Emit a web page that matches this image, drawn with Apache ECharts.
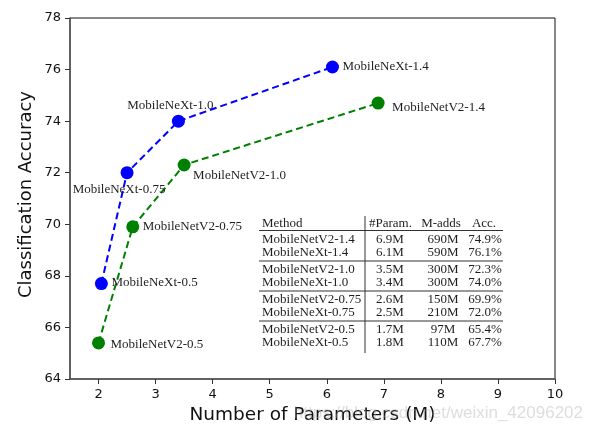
<!DOCTYPE html>
<html>
<head>
<meta charset="utf-8">
<script src="https://cdn.jsdelivr.net/npm/echarts@6/dist/echarts.min.js"></script>
<style>
html,body{margin:0;padding:0;background:#fff;}
#main{width:593px;height:434px;}
</style>
</head>
<body>
<div id="main"></div>
<script>
// ---- data ----
const nextNames = ['MobileNeXt-0.5', 'MobileNeXt-0.75', 'MobileNeXt-1.0', 'MobileNeXt-1.4'];
const nextParams = [2.05, 2.5, 3.4, 6.1];
const nextAcc = [67.7, 72.0, 74.0, 76.1];

const v2Names = ['MobileNetV2-0.5', 'MobileNetV2-0.75', 'MobileNetV2-1.0', 'MobileNetV2-1.4'];
const v2Params = [2.0, 2.6, 3.5, 6.9];
const v2Acc = [65.4, 69.9, 72.3, 74.7];

const xTicks = [2, 3, 4, 5, 6, 7, 8, 9, 10];
const yTicks = [64, 66, 68, 70, 72, 74, 76, 78];

const tableHeader = ['Method', '#Param.', 'M-adds', 'Acc.'];
const tableMethod = ['MobileNetV2-1.4', 'MobileNeXt-1.4', 'MobileNetV2-1.0', 'MobileNeXt-1.0',
  'MobileNetV2-0.75', 'MobileNeXt-0.75', 'MobileNetV2-0.5', 'MobileNeXt-0.5'];
const tableParam = ['6.9M', '6.1M', '3.5M', '3.4M', '2.6M', '2.5M', '1.7M', '1.8M'];
const tableMadds = ['690M', '590M', '300M', '300M', '150M', '210M', '97M', '110M'];
const tableAcc = ['74.9%', '76.1%', '72.3%', '74.0%', '69.9%', '72.0%', '65.4%', '67.7%'];

const watermark = 'https://blog.csdn.net/weixin_42096202';

// ---- styles ----
const serif = '"Liberation Serif", "Times New Roman", serif';
const sans = '"DejaVu Sans", sans-serif';
const textColor = '#1e1e1e';

// label placement per point: [align, dx, dy]
const nextLabelPos = [['left', 10, -1], ['center', -8, 17], ['center', -8, -16], ['left', 10, 0]];
const v2LabelPos = [['left', 12, 2], ['left', 10, 0], ['left', 9, 11], ['left', 14, 4]];

function buildData(xs, ys, names, pos) {
  return xs.map((x, i) => ({
    value: [x, ys[i]],
    name: names[i],
    label: {
      show: true,
      position: 'inside',
      align: pos[i][0],
      verticalAlign: 'middle',
      offset: [pos[i][1], pos[i][2]],
      formatter: names[i],
      fontFamily: serif,
      fontSize: 13,
      color: textColor
    }
  }));
}

// table graphics
const tbl = [];
const colMethodX = 262;
const colParamX = 390;
const colMaddsX = 443;
const colAccX = 485;
const headerY = 223.5;
const rowYs = [];
{
  let y = 239.5;
  for (let i = 0; i < tableMethod.length; i++) {
    rowYs.push(y);
    y += (i % 2 === 1) ? 17 : 13;
  }
}
function txt(x, y, s, align) {
  tbl.push({
    type: 'text', x: x, y: y, silent: true,
    style: { text: s, fontFamily: serif, fontSize: 13, fill: textColor, align: align, verticalAlign: 'middle' }
  });
}
txt(colMethodX, headerY, tableHeader[0], 'left');
txt(369, headerY, tableHeader[1], 'left');
txt(441, headerY, tableHeader[2], 'center');
txt(484, headerY, tableHeader[3], 'center');
for (let i = 0; i < tableMethod.length; i++) {
  txt(colMethodX, rowYs[i], tableMethod[i], 'left');
  txt(colParamX, rowYs[i], tableParam[i], 'center');
  txt(colMaddsX, rowYs[i], tableMadds[i], 'center');
  txt(colAccX, rowYs[i], tableAcc[i], 'center');
}
const hLines = [230.5, 261, 291, 321];
hLines.forEach(y => tbl.push({
  type: 'line', silent: true,
  shape: { x1: 259, y1: y, x2: 503, y2: y },
  style: { stroke: '#333', lineWidth: 1 }
}));
tbl.push({
  type: 'line', silent: true,
  shape: { x1: 365, y1: 216, x2: 365, y2: 353 },
  style: { stroke: '#333', lineWidth: 1 }
});
tbl.push({
  type: 'text', x: 583, y: 413, silent: true, z: 100,
  style: { text: watermark, fontFamily: '"Liberation Sans", Arial, sans-serif', fontSize: 17,
    fill: 'rgba(170,170,170,0.4)', align: 'right', verticalAlign: 'middle' }
});

const chart = echarts.init(document.getElementById('main'));
chart.setOption({
  animation: false,
  backgroundColor: '#fff',
  grid: {
    left: 70, right: 38, top: 18, bottom: 55,
    containLabel: false, outerBoundsMode: 'none',
    show: true, borderColor: '#111', borderWidth: 1
  },
  xAxis: {
    type: 'value', min: 1.5, max: 10,
    name: 'Number of Parameters (M)',
    nameLocation: 'middle', nameGap: 27, nameMoveOverlap: false,
    nameTextStyle: { fontFamily: sans, fontSize: 18.5, color: '#111' },
    axisLine: { show: true, lineStyle: { color: '#555', width: 1.5 } },
    axisTick: { show: true, inside: false, length: 5, customValues: xTicks, lineStyle: { color: '#333' } },
    axisLabel: { customValues: xTicks, fontFamily: sans, fontSize: 13, color: '#111', margin: 9 },
    splitLine: { show: false }
  },
  yAxis: {
    type: 'value', min: 64, max: 78, interval: 2,
    name: 'Classification Accuracy',
    nameLocation: 'middle', nameGap: 35, nameMoveOverlap: false,
    nameTextStyle: { fontFamily: sans, fontSize: 18, color: '#111', padding: [0, 0, 0, 8] },
    axisLine: { show: true, lineStyle: { color: '#555', width: 1.5 } },
    axisTick: { show: true, inside: false, length: 5, lineStyle: { color: '#333' } },
    axisLabel: { fontFamily: sans, fontSize: 13, color: '#111', margin: 9,
      customValues: yTicks },
    splitLine: { show: false }
  },
  series: [
    {
      type: 'line',
      data: buildData(nextParams, nextAcc, nextNames, nextLabelPos),
      symbol: 'circle', symbolSize: 13,
      itemStyle: { color: '#0000ff' },
      lineStyle: { color: '#0000ff', width: 2, type: [7, 4] },
      z: 3
    },
    {
      type: 'line',
      data: buildData(v2Params, v2Acc, v2Names, v2LabelPos),
      symbol: 'circle', symbolSize: 13,
      itemStyle: { color: '#008000' },
      lineStyle: { color: '#008000', width: 2, type: [7, 4] },
      z: 3
    }
  ],
  graphic: tbl
});
</script>
</body>
</html>
